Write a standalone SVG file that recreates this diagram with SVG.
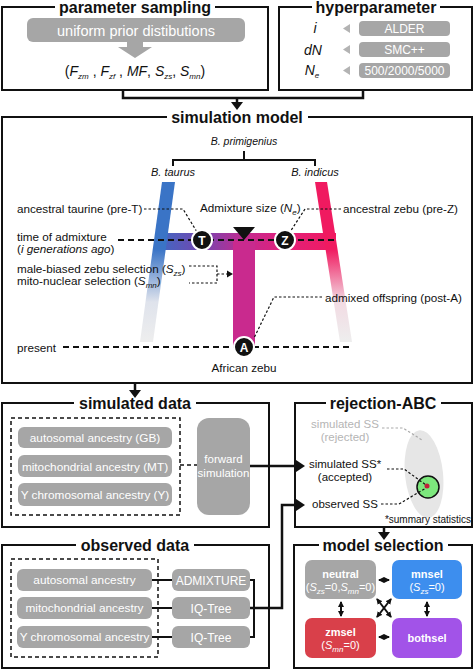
<svg xmlns="http://www.w3.org/2000/svg" width="474" height="671" viewBox="0 0 474 671">
<defs>
<style>
text{font-family:"Liberation Sans",Arial,Helvetica,sans-serif;fill:#111}
.frame{fill:none;stroke:#111;stroke-width:2}
.gap{fill:#fff}
.title{font-size:16px;font-weight:bold;text-anchor:middle}
.box{fill:#a6a6a6}
.wt{fill:#fff;text-anchor:middle}
.lbl{font-size:11.7px}
.it{font-style:italic}
.sub{font-size:8px}
.conn{fill:none;stroke:#111;stroke-width:2.5}
.thin{fill:none;stroke:#111;stroke-width:2}
.dot{fill:none;stroke:#111;stroke-width:1.2;stroke-dasharray:2.5 2}
.gdot{fill:none;stroke:#aaa;stroke-width:1.2;stroke-dasharray:2.5 2}
.dash{fill:none;stroke:#111;stroke-width:2.2;stroke-dasharray:6 4}
.dbox{fill:none;stroke:#111;stroke-width:1.5;stroke-dasharray:4 3}
.node{fill:#111;stroke:#fff;stroke-width:2}
.nl{fill:#fff;font-weight:bold;font-size:12px;text-anchor:middle}
.ms{fill:#fff;text-anchor:middle;font-size:11px}
.msb{font-weight:bold}
.rj{font-size:11.5px;text-anchor:middle}
.dbl{fill:none;stroke:#111;stroke-width:2;marker-start:url(#ah);marker-end:url(#ah)}
</style>
<marker id="ah" viewBox="0 0 6 6" refX="5" refY="3" markerWidth="6" markerHeight="6" markerUnits="userSpaceOnUse" orient="auto-start-reverse">
<path d="M0,0 L6,3 L0,6 z" fill="#111"/>
</marker>
<linearGradient id="gBlue" gradientUnits="userSpaceOnUse" x1="0" y1="182" x2="0" y2="342">
<stop offset="0" stop-color="#3a74c6"/>
<stop offset="0.42" stop-color="#3a74c6"/>
<stop offset="0.75" stop-color="#dfe3ec"/>
<stop offset="1" stop-color="#eeeeee"/>
</linearGradient>
<linearGradient id="gRed" gradientUnits="userSpaceOnUse" x1="0" y1="182" x2="0" y2="342">
<stop offset="0" stop-color="#f01a60"/>
<stop offset="0.42" stop-color="#f01a60"/>
<stop offset="0.75" stop-color="#f2dbe3"/>
<stop offset="1" stop-color="#eeeeee"/>
</linearGradient>
<linearGradient id="gHor" gradientUnits="userSpaceOnUse" x1="155" y1="0" x2="336" y2="0">
<stop offset="0" stop-color="#3a6cc4"/>
<stop offset="0.26" stop-color="#7446b0"/>
<stop offset="0.49" stop-color="#c22a90"/>
<stop offset="0.72" stop-color="#e2207a"/>
<stop offset="1" stop-color="#f01a60"/>
</linearGradient>
</defs>
<rect width="474" height="671" fill="#fff"/>

<g id="parameter-sampling">
<rect class="frame" x="2" y="7" width="266" height="83"/>
<rect class="gap" x="55" y="0" width="160" height="14"/>
<text class="title" x="135" y="12.5">parameter sampling</text>
<rect class="box" x="27" y="18" width="218" height="24" rx="6"/>
<text class="wt" x="136" y="35.5" font-size="14.5">uniform prior distibutions</text>
<polygon class="box" points="127,42 143,42 143,47 152,47 135,58 118,47 127,47"/>
<text x="135" y="76" font-size="14" text-anchor="middle">(<tspan class="it">F</tspan><tspan class="it sub" dy="3">zm</tspan><tspan dy="-3"> , </tspan><tspan class="it">F</tspan><tspan class="it sub" dy="3">zf</tspan><tspan dy="-3"> , </tspan><tspan class="it">MF</tspan>, <tspan class="it">S</tspan><tspan class="it sub" dy="3">zs</tspan><tspan dy="-3">, </tspan><tspan class="it">S</tspan><tspan class="it sub" dy="3">mn</tspan><tspan dy="-3">)</tspan></text>
</g>

<g id="hyperparameter">
<rect class="frame" x="279" y="7" width="193" height="83"/>
<rect class="gap" x="312" y="0" width="128" height="14"/>
<text class="title" x="376" y="12.5">hyperparameter</text>
<text class="it" x="315" y="33" font-size="14" text-anchor="middle">i</text>
<text class="it" x="313" y="54.5" font-size="14" text-anchor="middle">dN</text>
<text class="it" x="312" y="75" font-size="14" text-anchor="middle">N<tspan class="sub" dy="3">e</tspan></text>
<polygon fill="#b3b3b3" points="343,28.5 350,24 350,33"/>
<polygon fill="#b3b3b3" points="343,49.5 350,45 350,54"/>
<polygon fill="#b3b3b3" points="343,70.5 350,66 350,75"/>
<rect class="box" x="359" y="21" width="91" height="15" rx="4"/>
<rect class="box" x="359" y="42" width="91" height="15" rx="4"/>
<rect class="box" x="359" y="63" width="91" height="15" rx="4"/>
<text class="wt" x="404.5" y="33" font-size="12">ALDER</text>
<text class="wt" x="404.5" y="54" font-size="12">SMC++</text>
<text class="wt" x="404.5" y="75" font-size="12">500/2000/5000</text>
</g>

<g id="simulation-model">
<rect class="frame" x="2" y="117" width="470" height="266"/>
<rect class="gap" x="167" y="109" width="141" height="16"/>
<text class="title" x="237" y="123">simulation model</text>
<text class="it" x="244" y="145" font-size="10.5" text-anchor="middle">B. primigenius</text>
<path class="thin" d="M173,166 V160 H315 V166 M244,160 V151"/>
<text class="it" x="173" y="176" font-size="11" text-anchor="middle">B. taurus</text>
<text class="it" x="315" y="176" font-size="11" text-anchor="middle">B. indicus</text>
<rect x="155" y="233" width="181" height="17" fill="url(#gHor)"/>
<rect x="233" y="240" width="22" height="107" fill="#c92a8e"/>
<polygon points="162,182 175,182 153,342 140,342" fill="url(#gBlue)"/>
<polygon points="315,182 327,182 352,342 340,342" fill="url(#gRed)"/>
<path class="dash" d="M118,240 H337"/>
<path class="dash" d="M63,347 H353"/>
<polygon points="233,227 255,227 244,240" fill="#111"/>
<text class="lbl" x="200" y="212">Admixture size (<tspan class="it">N</tspan><tspan class="it sub" dy="3">e</tspan><tspan dy="-3">)</tspan></text>
<text class="lbl" x="17" y="213">ancestral taurine (pre-T)</text>
<path class="dot" d="M144,209 H183 L197,232"/>
<text class="lbl" x="343" y="213">ancestral zebu (pre-Z)</text>
<path class="dot" d="M341,209 H305 L290,232"/>
<text class="lbl" x="17" y="241">time of admixture</text>
<text class="lbl" x="17" y="253">(<tspan class="it">i generations ago</tspan>)</text>
<text class="lbl" x="17" y="273">male-biased zebu selection (<tspan class="it">S</tspan><tspan class="it sub" dy="3">zs</tspan><tspan dy="-3">)</tspan></text>
<text class="lbl" x="17" y="285">mito-nuclear selection (<tspan class="it">S</tspan><tspan class="it sub" dy="3">mn</tspan><tspan dy="-3">)</tspan></text>
<path class="dot" d="M189,266 H217 V283 H189 M217,274 H227"/>
<polygon points="227,270.5 233,274 227,277.5" fill="#111"/>
<text class="lbl" x="325" y="302">admixed offspring (post-A)</text>
<path class="dot" d="M322,297 H274 L254,338"/>
<text class="lbl" x="17" y="352">present</text>
<text class="lbl" x="244" y="372" text-anchor="middle">African zebu</text>
<circle class="node" cx="202" cy="240" r="10"/>
<text class="nl" x="202" y="244.5">T</text>
<circle class="node" cx="285" cy="240" r="10"/>
<text class="nl" x="285" y="244.5">Z</text>
<circle class="node" cx="244" cy="347" r="10"/>
<text class="nl" x="244" y="351.5">A</text>
</g>

<g id="simulated-data">
<rect class="frame" x="2" y="403" width="267" height="124"/>
<rect class="gap" x="74" y="395" width="122" height="16"/>
<text class="title" x="135" y="409">simulated data</text>
<rect class="dbox" x="11" y="418" width="169" height="97"/>
<rect class="box" x="18" y="427" width="154" height="21" rx="6"/>
<rect class="box" x="18" y="455" width="154" height="22" rx="6"/>
<rect class="box" x="18" y="483" width="154" height="23" rx="6"/>
<text class="wt" x="95" y="442" font-size="11.8">autosomal ancestry (GB)</text>
<text class="wt" x="95" y="470.5" font-size="11.8">mitochondrial ancestry (MT)</text>
<text class="wt" x="95" y="499" font-size="11.8">Y chromosomal ancestry (Y)</text>
<rect class="box" x="197" y="418" width="53" height="97" rx="12"/>
<text class="wt" x="223.5" y="463" font-size="11.5">forward</text>
<text class="wt" x="223.5" y="477" font-size="11.5">simulation</text>
</g>

<g id="rejection-abc">
<rect class="frame" x="295" y="403" width="177" height="124"/>
<rect class="gap" x="326" y="395" width="115" height="16"/>
<text class="title" x="383" y="409">rejection-ABC</text>
<ellipse cx="424" cy="474" rx="19" ry="44" fill="#e6e6e6" transform="rotate(-6 424 474)"/>
<text class="rj" x="345" y="428" style="fill:#b5b5b5">simulated SS</text>
<text class="rj" x="345" y="441" style="fill:#b5b5b5">(rejected)</text>
<path class="gdot" d="M382,428 H403 L422,440"/>
<text class="rj" x="345" y="468">simulated SS*</text>
<text class="rj" x="345" y="481">(accepted)</text>
<text class="rj" x="345" y="508">observed SS</text>
<circle cx="428" cy="487" r="11" fill="#7de87d" stroke="#111" stroke-width="1.5"/>
<path class="dot" d="M387,469 H404 L426,485"/>
<path class="dot" d="M381,504 H399 L426,488"/>
<circle cx="427" cy="486" r="2.5" fill="#c0203a"/>
<text x="471" y="523" font-size="10" text-anchor="end">*summary statistics</text>
</g>

<g id="observed-data">
<rect class="frame" x="2" y="545" width="267" height="123"/>
<rect class="gap" x="76" y="537" width="118" height="16"/>
<text class="title" x="135" y="551">observed data</text>
<rect class="dbox" x="11" y="559" width="147" height="98"/>
<rect class="box" x="17" y="569" width="135" height="22" rx="6"/>
<rect class="box" x="17" y="597" width="135" height="22" rx="6"/>
<rect class="box" x="17" y="626" width="135" height="22" rx="6"/>
<text class="wt" x="84.5" y="584" font-size="11.8">autosomal ancestry</text>
<text class="wt" x="84.5" y="612" font-size="11.8">mitochondrial ancestry</text>
<text class="wt" x="84.5" y="641" font-size="11.8">Y chromosomal ancestry</text>
<rect class="box" x="172" y="569" width="78" height="22" rx="6"/>
<rect class="box" x="172" y="597" width="78" height="22" rx="6"/>
<rect class="box" x="172" y="626" width="78" height="22" rx="6"/>
<text class="wt" x="211" y="584.5" font-size="12">ADMIXTURE</text>
<text class="wt" x="211" y="612.5" font-size="12">IQ-Tree</text>
<text class="wt" x="211" y="641.5" font-size="12">IQ-Tree</text>
</g>

<g id="model-selection">
<rect class="frame" x="294" y="545" width="178" height="123"/>
<rect class="gap" x="319" y="537" width="129" height="16"/>
<text class="title" x="383" y="551">model selection</text>
<g id="neutral">
<rect x="305" y="560" width="71" height="39" rx="7" fill="#a6a6a6"/>
<text class="ms msb" x="340.5" y="578">neutral</text>
<text class="ms" x="340.5" y="591">(<tspan class="it">S</tspan><tspan class="it sub" dy="3">zs</tspan><tspan dy="-3">=0,</tspan><tspan class="it">S</tspan><tspan class="it sub" dy="3">mn</tspan><tspan dy="-3">=0)</tspan></text>
</g>
<g id="mnsel">
<rect x="392" y="560" width="70" height="39" rx="7" fill="#3d8eee"/>
<text class="ms msb" x="427" y="578">mnsel</text>
<text class="ms" x="427" y="591">(<tspan class="it">S</tspan><tspan class="it sub" dy="3">zs</tspan><tspan dy="-3">=0)</tspan></text>
</g>
<g id="zmsel">
<rect x="305" y="618" width="71" height="40" rx="7" fill="#d9404a"/>
<text class="ms msb" x="340.5" y="636">zmsel</text>
<text class="ms" x="340.5" y="649">(<tspan class="it">S</tspan><tspan class="it sub" dy="3">mn</tspan><tspan dy="-3">=0)</tspan></text>
</g>
<g id="bothsel">
<rect x="392" y="618" width="70" height="40" rx="7" fill="#a253e8"/>
<text class="ms msb" x="427" y="642">bothsel</text>
</g>
</g>

<g id="connectors">
<path class="conn" d="M123,90 V98 H363 V90 M237,98 V103"/>
<polygon points="231,102 243,102 237,110" fill="#111"/>
<path class="conn" d="M135,383 V391"/>
<polygon points="129,390 141,390 135,398" fill="#111"/>
<path class="conn" d="M384,527 V533"/>
<polygon points="378,532 390,532 384,540" fill="#111"/>
<path d="M180,465 H197" fill="none" stroke="#111" stroke-width="1.5" stroke-dasharray="4 3"/>
<path class="conn" d="M250,466 H297"/>
<polygon points="296,460 296,472 305,466" fill="#111"/>
<path class="thin" d="M152,580 H172 M152,608 H172 M152,637 H172"/>
<path class="thin" d="M250,580 H254 V637 H250"/>
<path class="conn" d="M250,608 H282 V505 H297"/>
<polygon points="296,499 296,511 305,505" fill="#111"/>
<path class="dbl" d="M379,580 H389"/>
<path class="dbl" d="M379,637 H389"/>
<path class="dbl" d="M341,602 V616"/>
<path class="dbl" d="M427,602 V616"/>
<path class="dbl" d="M377,599 L391,617"/>
<path class="dbl" d="M391,599 L377,617"/>
</g>
</svg>
